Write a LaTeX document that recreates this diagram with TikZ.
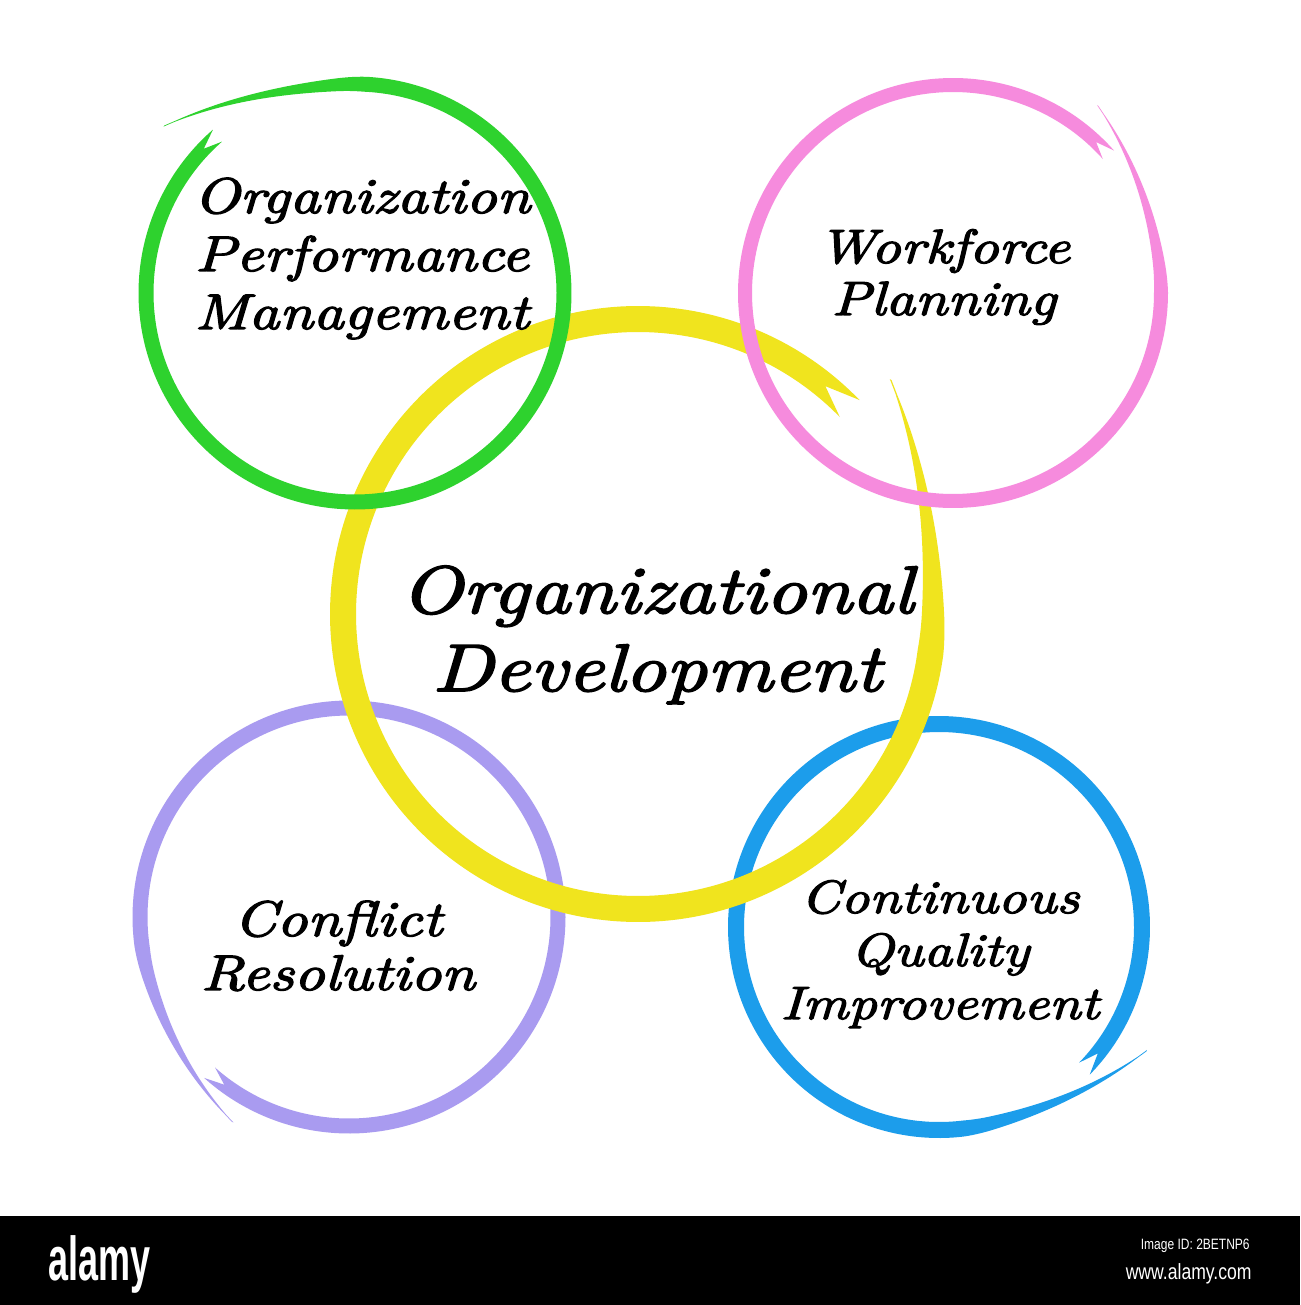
\documentclass[tikz,border=0pt]{standalone}
\usepackage{fontspec}
\newfontfamily\handfont{lmroman10-italic}[Extension=.otf,FakeStretch=1.2,FakeBold=2.6]
\newfontfamily\wmfont{Liberation Sans}[FakeStretch=0.8]
\newfontfamily\wmlogo{Liberation Sans}[FakeStretch=0.58]
\definecolor{cgreen}{RGB}{46,210,46}
\definecolor{cpink}{RGB}{246,139,221}
\definecolor{cyellow}{RGB}{240,228,30}
\definecolor{cpurple}{RGB}{169,155,240}
\definecolor{cblue}{RGB}{28,157,235}
\def\bTs{0.88}
\def\bTl{0.14}
% #1 cx, #2 cy, #3 r, #4 width, #5 start angle, #6 end angle, #7 outward growth, #8 colour
\newcommand\brushring[8]{%
  \pgfmathsetmacro\bDa{#6-#5}%
  \pgfmathsetmacro\bNa{#5+57.3*1.3*#4/#3}%
  \fill[#8] plot[domain=0:1,samples=300,variable=\pp]
    ({#1+(#3+#7*(max(0,(\pp-\bTs)/(1-\bTs)))^2+0.5*#4*max(0.05,min(1,(1-\pp)/\bTl)))*cos(#5+\pp*\bDa)},
     {#2-(#3+#7*(max(0,(\pp-\bTs)/(1-\bTs)))^2+0.5*#4*max(0.05,min(1,(1-\pp)/\bTl)))*sin(#5+\pp*\bDa)})
    -- plot[domain=1:0,samples=300,variable=\pp]
    ({#1+(#3+#7*(max(0,(\pp-\bTs)/(1-\bTs)))^2-0.5*#4*max(0.05,min(1,(1-\pp)/\bTl)))*cos(#5+\pp*\bDa)},
     {#2-(#3+#7*(max(0,(\pp-\bTs)/(1-\bTs)))^2-0.5*#4*max(0.05,min(1,(1-\pp)/\bTl)))*sin(#5+\pp*\bDa)})
    -- ({#1+#3*cos(\bNa)},{#2-#3*sin(\bNa)}) -- cycle;
}
\tikzset{
  lbl/.style={inner sep=0pt, anchor=base, text=black, font=\handfont},
  wm/.style={inner sep=0pt, text=white}
}
\begin{document}
\begin{tikzpicture}[x=0.5pt,y=-0.5pt]
\useasboundingbox (0,0) rectangle (1300,1305);
\fill[white] (0,0) rectangle (1300,1216);
\fill[black] (0,1216) rectangle (1300,1305);

% rings
\brushring{349}{917}{209}{15}{228}{600.6}{27}{cpurple}
\brushring{939}{927}{203}{16}{315.6}{689.4}{39}{cblue}
\brushring{638}{614}{295}{26}{44}{403}{50}{cyellow}
\brushring{355}{293}{209}{15}{131}{499}{45}{cgreen}
\brushring{953}{293}{208}{14}{41.5}{412.5}{29}{cpink}

% labels
\node[lbl] (opm) at (362,213) {\fontsize{25}{29}\selectfont\begin{tabular}[t]{@{}c@{}}Organization\\Performance\\Management\end{tabular}};
\node[lbl] (wfp) at (944,263) {\fontsize{24}{26}\selectfont\begin{tabular}[t]{@{}c@{}}Workforce\\Planning\end{tabular}};
\node[lbl] (od) at (657,613) {\fontsize{33.5}{39}\selectfont\begin{tabular}[t]{@{}c@{}}Organizational\\Development\end{tabular}};
\node[lbl] (cr) at (338,936) {\fontsize{25}{27}\selectfont\begin{tabular}[t]{@{}c@{}}Conflict\\Resolution\end{tabular}};
\node[lbl] (cqi) at (940,913) {\fontsize{23.3}{26.5}\selectfont\begin{tabular}[t]{@{}c@{}}Continuous\\Quality\\Improvement\end{tabular}};

% watermark band
\node[wm, anchor=base west, font=\wmlogo\bfseries\fontsize{31}{31}\selectfont] (logo) at (48,1280) {alamy};
\node[wm, anchor=base east, font=\wmfont\fontsize{7.5}{8}\selectfont] (imgid) at (1250,1249) {Image ID: 2BETNP6};
\node[wm, anchor=base east, font=\wmfont\fontsize{11}{12}\selectfont] (www) at (1252,1279) {www.alamy.com};
\end{tikzpicture}
\end{document}
